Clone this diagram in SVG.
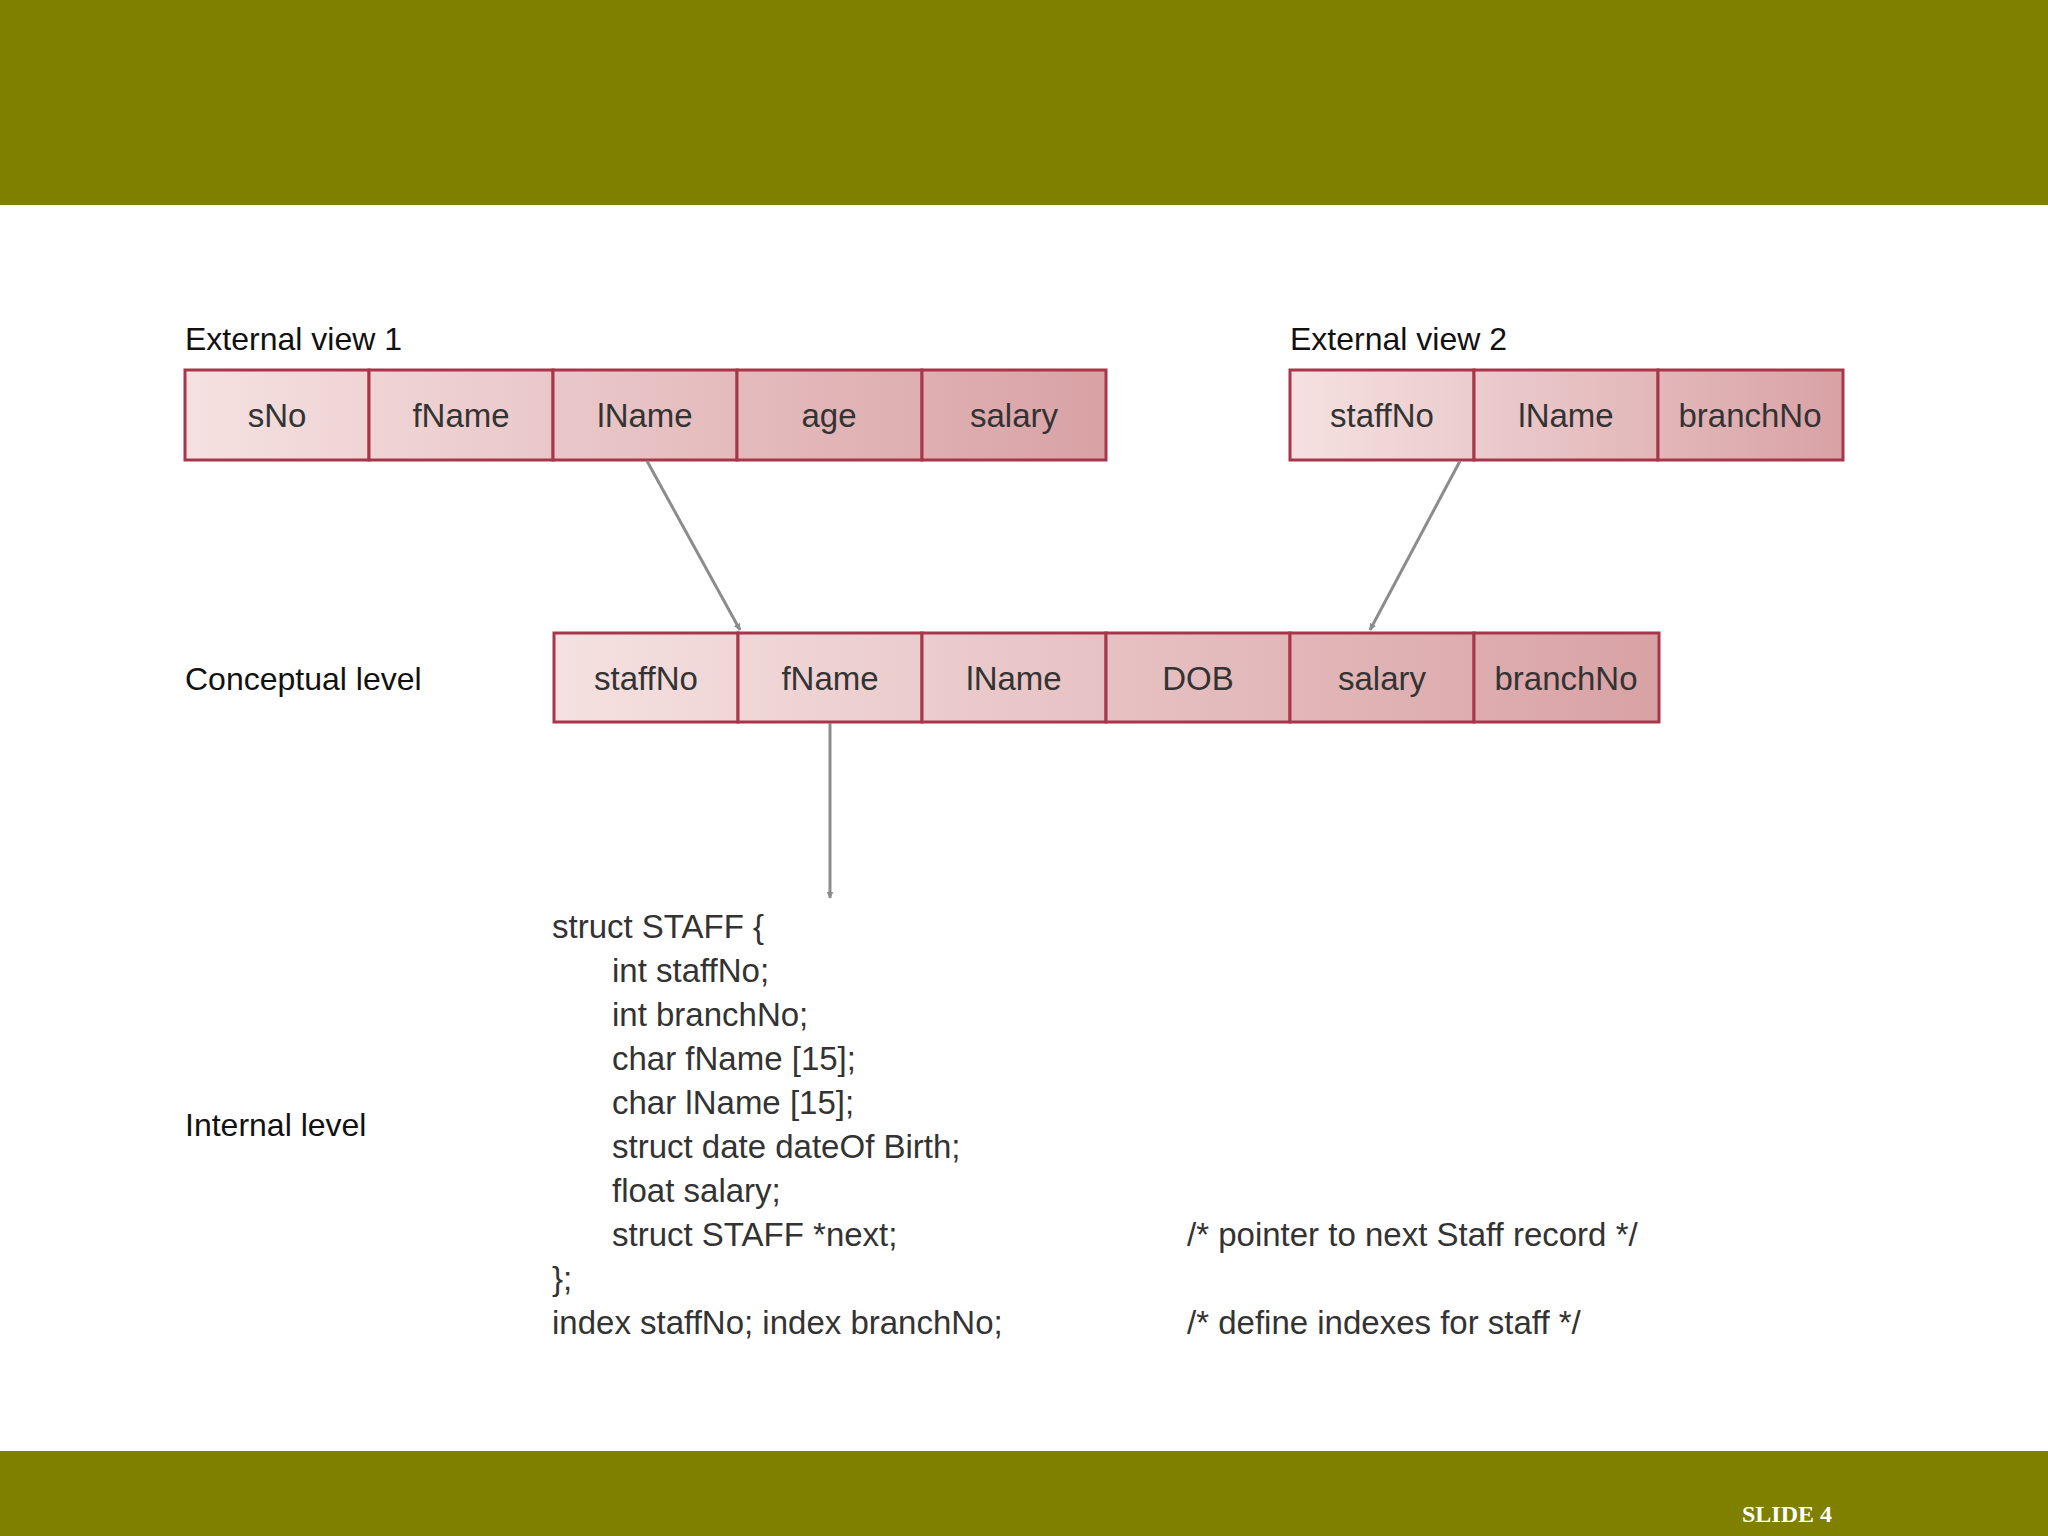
<svg xmlns="http://www.w3.org/2000/svg" width="2048" height="1536" viewBox="0 0 2048 1536">
<defs>
<linearGradient id="g1" gradientUnits="userSpaceOnUse" x1="185" y1="0" x2="1106" y2="0"><stop offset="0" stop-color="#f5e1e1"/><stop offset="1" stop-color="#d9a2a5"/></linearGradient>
<linearGradient id="g2" gradientUnits="userSpaceOnUse" x1="1290" y1="0" x2="1843" y2="0"><stop offset="0" stop-color="#f5e1e1"/><stop offset="1" stop-color="#d9a2a5"/></linearGradient>
<linearGradient id="g3" gradientUnits="userSpaceOnUse" x1="554" y1="0" x2="1659" y2="0"><stop offset="0" stop-color="#f5e1e1"/><stop offset="1" stop-color="#d9a2a5"/></linearGradient>
<marker id="ah" viewBox="0 0 10 10" refX="9" refY="5" markerWidth="7" markerHeight="7" markerUnits="userSpaceOnUse" orient="auto"><path d="M0,0 L10,5 L0,10 z" fill="#8c8c8c"/></marker>
</defs>
<style>
.c{stroke:#a8364a;stroke-width:3}
.t{font-family:"Liberation Sans",Arial,sans-serif;font-size:33px;fill:#333;text-anchor:middle}
.lb{font-family:"Liberation Sans",Arial,sans-serif;font-size:32px;fill:#111}
.code{font-family:"Liberation Sans",Arial,sans-serif;font-size:33px;fill:#333}
.con{stroke:#8c8c8c;stroke-width:3;fill:none}
</style>
<rect width="2048" height="1536" fill="#fff"/>
<rect x="0" y="0" width="2048" height="205" fill="#7f7f00"/>
<rect x="0" y="1451" width="2048" height="85" fill="#7f7f00"/>
<text x="1742" y="1522" font-family="'Liberation Serif',serif" font-weight="bold" font-size="24" fill="#fff">SLIDE 4</text>

<text class="lb" x="185" y="350">External view 1</text>
<text class="lb" x="1290" y="350">External view 2</text>
<text class="lb" x="185" y="690">Conceptual level</text>
<text class="lb" x="185" y="1136">Internal level</text>

<g id="ev1-sNo"><rect class="c" x="185" y="370" width="184" height="90" fill="url(#g1)"/><text class="t" x="277" y="427">sNo</text></g>
<g id="ev1-fName"><rect class="c" x="369" y="370" width="184" height="90" fill="url(#g1)"/><text class="t" x="461" y="427">fName</text></g>
<g id="ev1-lName"><rect class="c" x="553" y="370" width="184" height="90" fill="url(#g1)"/><text class="t" x="645" y="427">lName</text></g>
<g id="ev1-age"><rect class="c" x="737" y="370" width="185" height="90" fill="url(#g1)"/><text class="t" x="829" y="427">age</text></g>
<g id="ev1-salary"><rect class="c" x="922" y="370" width="184" height="90" fill="url(#g1)"/><text class="t" x="1014" y="427">salary</text></g>

<g id="ev2-staffNo"><rect class="c" x="1290" y="370" width="184" height="90" fill="url(#g2)"/><text class="t" x="1382" y="427">staffNo</text></g>
<g id="ev2-lName"><rect class="c" x="1474" y="370" width="184" height="90" fill="url(#g2)"/><text class="t" x="1566" y="427">lName</text></g>
<g id="ev2-branchNo"><rect class="c" x="1658" y="370" width="185" height="90" fill="url(#g2)"/><text class="t" x="1750" y="427">branchNo</text></g>

<g id="cl-staffNo"><rect class="c" x="554" y="633" width="184" height="89" fill="url(#g3)"/><text class="t" x="646" y="690">staffNo</text></g>
<g id="cl-fName"><rect class="c" x="738" y="633" width="184" height="89" fill="url(#g3)"/><text class="t" x="830" y="690">fName</text></g>
<g id="cl-lName"><rect class="c" x="922" y="633" width="184" height="89" fill="url(#g3)"/><text class="t" x="1014" y="690">lName</text></g>
<g id="cl-DOB"><rect class="c" x="1106" y="633" width="184" height="89" fill="url(#g3)"/><text class="t" x="1198" y="690">DOB</text></g>
<g id="cl-salary"><rect class="c" x="1290" y="633" width="184" height="89" fill="url(#g3)"/><text class="t" x="1382" y="690">salary</text></g>
<g id="cl-branchNo"><rect class="c" x="1474" y="633" width="185" height="89" fill="url(#g3)"/><text class="t" x="1566" y="690">branchNo</text></g>

<g id="connectors">
<line class="con" x1="647" y1="461" x2="740" y2="630" marker-end="url(#ah)"/>
<line class="con" x1="1460" y1="461" x2="1370" y2="630" marker-end="url(#ah)"/>
<line class="con" x1="830" y1="723" x2="830" y2="898" marker-end="url(#ah)"/>
</g>

<g id="internal">
<text class="code" x="552" y="938">struct STAFF {</text>
<text class="code" x="612" y="982">int staffNo;</text>
<text class="code" x="612" y="1026">int branchNo;</text>
<text class="code" x="612" y="1070">char fName [15];</text>
<text class="code" x="612" y="1114">char lName [15];</text>
<text class="code" x="612" y="1158">struct date dateOf Birth;</text>
<text class="code" x="612" y="1202">float salary;</text>
<text class="code" x="612" y="1246">struct STAFF *next;</text>
<text class="code" x="1187" y="1246">/* pointer to next Staff record */</text>
<text class="code" x="552" y="1290">};</text>
<text class="code" x="552" y="1334">index staffNo; index branchNo;</text>
<text class="code" x="1187" y="1334">/* define indexes for staff */</text>
</g>
</svg>
